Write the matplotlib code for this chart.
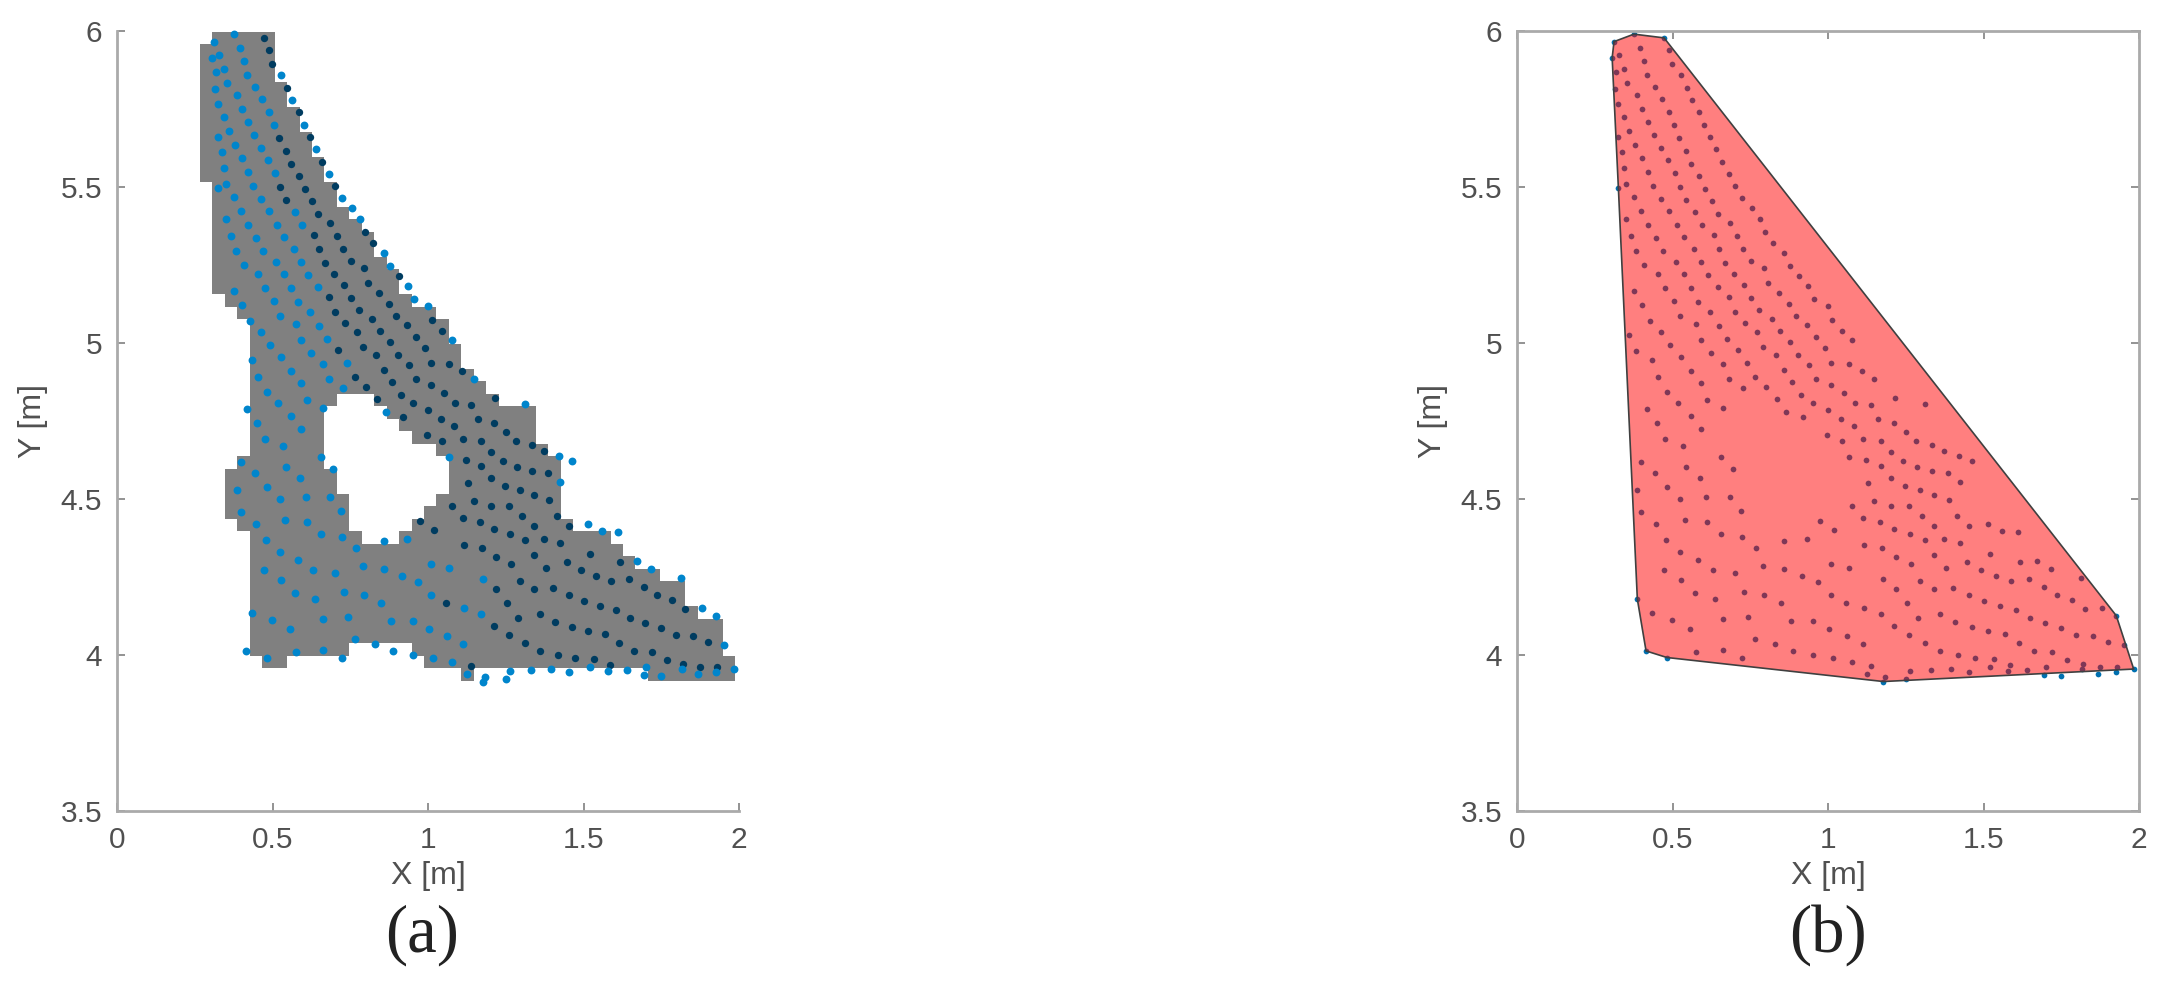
import numpy as np
import matplotlib
matplotlib.use('Agg')
import matplotlib.pyplot as plt
from matplotlib.colors import ListedColormap

plt.rcParams['font.family'] = ['Liberation Sans', 'DejaVu Sans']

# occupancy grid, cells of 0.04 m, rows counted from the top
cell = 0.04
grid_x0 = 0.266
grid_ytop = 5.996
n_cols = 43
row_runs = [
    [(1, 6)], [(0, 6)], [(0, 6)], [(0, 6)], [(0, 7)], [(0, 7)], [(0, 8)], [(0, 8)],
    [(0, 9)], [(0, 9)], [(0, 10)], [(0, 10)], [(1, 11)], [(1, 11)], [(1, 12)], [(1, 13)],
    [(1, 14)], [(1, 14)], [(1, 15)], [(1, 16)], [(1, 16)], [(2, 17)], [(3, 19)], [(4, 20)],
    [(4, 20)], [(4, 21)], [(4, 21)], [(4, 22)], [(4, 23)],
    [(4, 11), (14, 24)], [(4, 10), (15, 27)], [(4, 10), (16, 27)], [(4, 10), (17, 27)],
    [(4, 10), (19, 28)], [(3, 10), (20, 29)], [(2, 11), (20, 29)], [(2, 11), (20, 29)],
    [(2, 12), (19, 29)], [(2, 12), (18, 29)], [(3, 12), (17, 30)], [(4, 13), (16, 33)],
    [(4, 34)], [(4, 35)], [(4, 37)], [(4, 39)], [(4, 39)], [(4, 40)], [(4, 42)], [(4, 42)],
    [(4, 12), (17, 42)], [(5, 7), (18, 43)], [(21, 22), (36, 43)],
]

# points that show as bright blue in (a)
blue_pts = np.array([
    [.375, 5.989], [.311, 5.965], [.393, 5.946], [.328, 5.922], [.305, 5.913], [.408, 5.904],
    [.344, 5.877], [.316, 5.867], [.417, 5.858], [.526, 5.857], [.353, 5.831], [.314, 5.814],
    [.442, 5.819], [.384, 5.793], [.465, 5.780], [.561, 5.778], [.324, 5.765], [.402, 5.750],
    [.487, 5.739], [.343, 5.722], [.420, 5.707], [.504, 5.699], [.600, 5.699], [.360, 5.679],
    [.324, 5.659], [.438, 5.665], [.378, 5.634], [.461, 5.624], [.639, 5.620], [.337, 5.612],
    [.401, 5.591], [.484, 5.584], [.342, 5.561], [.420, 5.548], [.507, 5.543], [.680, 5.542],
    [.349, 5.509], [.325, 5.496], [.436, 5.502], [.374, 5.466], [.462, 5.462], [.721, 5.463],
    [.399, 5.423], [.488, 5.421], [.570, 5.418], [.755, 5.432], [.351, 5.395], [.420, 5.377],
    [.512, 5.378], [.595, 5.378], [.780, 5.396], [.364, 5.343], [.447, 5.337], [.536, 5.338],
    [.382, 5.295], [.470, 5.293], [.568, 5.301], [.856, 5.289], [.408, 5.250], [.509, 5.260],
    [.592, 5.260], [.453, 5.219], [.535, 5.219], [.614, 5.218], [.876, 5.247], [.374, 5.167],
    [.476, 5.175], [.559, 5.175], [.644, 5.178], [.505, 5.134], [.582, 5.131], [.936, 5.183],
    [.401, 5.120], [.953, 5.139], [.998, 5.119], [.523, 5.085], [.620, 5.098],
    [.427, 5.071], [.574, 5.059], [.647, 5.055], [.461, 5.035], [.592, 5.009], [.673, 5.012],
    [1.075, 5.009], [.491, 4.993], [.624, 4.968], [.526, 4.953], [.432, 4.944], [.661, 4.933],
    [.738, 4.936], [.557, 4.909], [.453, 4.891], [.682, 4.884], [1.146, 4.885], [.590, 4.870],
    [.727, 4.856], [.480, 4.842], [.609, 4.817], [.518, 4.806], [.660, 4.791], [.416, 4.788],
    [.864, 4.778], [.557, 4.766], [.449, 4.743], [.590, 4.725], [.475, 4.692], [.533, 4.670],
    [.654, 4.635], [.397, 4.618], [.541, 4.601], [.692, 4.595], [.442, 4.582], [.586, 4.566],
    [.480, 4.537], [.385, 4.527], [.607, 4.506], [.684, 4.507], [.523, 4.498], [.720, 4.462],
    [.399, 4.458], [.539, 4.432], [.610, 4.425], [.446, 4.419], [.655, 4.388], [.721, 4.378],
    [.478, 4.368], [.858, 4.366], [.767, 4.343], [.524, 4.328], [.580, 4.303], [.791, 4.283],
    [.859, 4.274], [.473, 4.272], [.630, 4.270], [.701, 4.261], [.525, 4.239], [.572, 4.199],
    [.635, 4.180], [.728, 4.200], [.793, 4.190], [.849, 4.166], [.434, 4.134], [.499, 4.112],
    [.662, 4.116], [.743, 4.121], [.879, 4.107], [.554, 4.082], [.763, 4.050], [.828, 4.034],
    [.414, 4.012], [.887, 4.012], [.481, 3.991], [.575, 4.008], [.661, 4.014], [.723, 3.991],
    [1.311, 4.803], [1.067, 4.633], [1.419, 4.636], [1.463, 4.622], [1.425, 4.555],
    [1.513, 4.419], [1.558, 4.398], [1.609, 4.394], [1.672, 4.300], [1.717, 4.275], [1.812, 4.246],
    [1.881, 4.150], [1.926, 4.125], [1.950, 4.030], [.930, 4.372], [1.008, 4.291], [1.068, 4.278],
    [.914, 4.253], [.968, 4.233], [1.008, 4.190], [1.116, 4.150], [1.169, 4.131], [1.175, 4.244],
    [.951, 4.108], [1.003, 4.082], [1.060, 4.061], [1.112, 4.034], [.951, 4.000], [1.015, 3.989],
    [1.077, 3.978], [1.123, 3.937], [1.262, 3.947], [1.329, 3.951], [1.394, 3.953], [1.453, 3.944],
    [1.521, 3.960], [1.577, 3.948], [1.639, 3.950], [1.701, 3.962], [1.693, 3.935], [1.749, 3.933],
    [1.815, 3.953], [1.866, 3.937], [1.924, 3.943], [1.982, 3.954], [1.183, 3.928], [1.177, 3.914],
    [1.250, 3.922],
])

# points that show as dark navy in (a)
dark_pts = np.array([
    [.472, 5.977], [.489, 5.937], [.497, 5.892], [.545, 5.817], [.583, 5.738], [.520, 5.656],
    [.619, 5.659], [.542, 5.615], [.559, 5.574], [.658, 5.580], [.585, 5.535], [.523, 5.498],
    [.604, 5.494], [.701, 5.503], [.544, 5.456], [.627, 5.454], [.646, 5.412], [.685, 5.385],
    [.631, 5.344], [.706, 5.343], [.797, 5.354], [.647, 5.301], [.725, 5.299], [.821, 5.318],
    [.668, 5.257], [.751, 5.263], [.698, 5.220], [.794, 5.239], [.905, 5.215], [.729, 5.186],
    [.807, 5.191], [.681, 5.146], [.751, 5.142], [.841, 5.159], [.700, 5.100], [.777, 5.104],
    [.873, 5.125], [.818, 5.076], [.897, 5.087], [1.013, 5.073],
    [.732, 5.063], [.770, 5.033], [.845, 5.038], [.933, 5.056], [.877, 5.003], [.961, 5.017],
    [1.043, 5.038], [.709, 4.977], [.789, 4.985], [.990, 4.982], [.832, 4.960], [.901, 4.961],
    [.937, 4.929], [1.008, 4.936], [1.068, 4.932], [.856, 4.913], [1.109, 4.909], [.763, 4.890],
    [.961, 4.885], [.884, 4.873], [1.008, 4.865], [.800, 4.859], [1.049, 4.840], [.912, 4.831],
    [.834, 4.819], [1.215, 4.824],
    [.952, 4.806], [1.086, 4.808], [1.136, 4.799], [1.000, 4.785], [1.042, 4.756], [1.160, 4.754],
    [.918, 4.761], [1.210, 4.742], [1.083, 4.733], [1.249, 4.715], [.995, 4.704], [1.044, 4.685],
    [1.112, 4.690], [1.168, 4.686], [1.283, 4.684], [1.332, 4.672], [1.373, 4.653], [1.202, 4.651],
    [1.122, 4.624], [1.240, 4.622], [1.169, 4.606], [1.285, 4.603], [1.334, 4.589], [1.386, 4.582],
    [1.129, 4.551], [1.202, 4.566], [1.246, 4.542], [1.294, 4.527], [1.341, 4.512], [1.388, 4.495],
    [1.075, 4.478], [1.148, 4.492], [1.200, 4.476], [1.260, 4.476], [1.301, 4.446], [1.414, 4.445],
    [1.112, 4.438], [.974, 4.428], [1.165, 4.424], [1.019, 4.400], [1.340, 4.414], [1.454, 4.414],
    [1.211, 4.402], [1.264, 4.387], [1.312, 4.369], [1.372, 4.372], [1.424, 4.357], [1.116, 4.351],
    [1.174, 4.341], [1.341, 4.318], [1.218, 4.312], [1.519, 4.324], [1.267, 4.292], [1.447, 4.296],
    [1.615, 4.296], [1.379, 4.277], [1.492, 4.273], [1.538, 4.251], [1.296, 4.236], [1.587, 4.235],
    [1.645, 4.242], [1.692, 4.217], [1.217, 4.209], [1.340, 4.209], [1.402, 4.213], [1.451, 4.191],
    [1.734, 4.191], [1.058, 4.165], [1.253, 4.165], [1.502, 4.173], [1.784, 4.174], [1.551, 4.157],
    [1.604, 4.143], [1.826, 4.147], [1.359, 4.132], [1.650, 4.119], [1.288, 4.117], [1.698, 4.101],
    [1.406, 4.104], [1.461, 4.090], [1.211, 4.091], [1.748, 4.084], [1.514, 4.076], [1.260, 4.062],
    [1.568, 4.065], [1.796, 4.063], [1.850, 4.060], [1.310, 4.038], [1.898, 4.040], [1.612, 4.036],
    [1.360, 4.013], [1.663, 4.013], [1.718, 4.008], [1.417, 3.998], [1.473, 3.988], [1.533, 3.985],
    [1.767, 3.983], [1.138, 3.965], [1.820, 3.969], [1.584, 3.967], [1.873, 3.960], [1.928, 3.961],
])

# only in (b)
extra_pts = np.array([[.358, 5.024], [.383, 4.975], [.386, 4.178]])

hull_pts = np.array([
    [.311, 5.965], [.375, 5.989], [.472, 5.977], [1.926, 4.125], [1.982, 3.954], [1.177, 3.914],
    [.481, 3.991], [.414, 4.012], [.386, 4.178], [.325, 5.496], [.305, 5.913],
])

x_ticks = [0, 0.5, 1, 1.5, 2]
x_ticklabels = ['0', '0.5', '1', '1.5', '2']
y_ticks = [3.5, 4, 4.5, 5, 5.5, 6]
y_ticklabels = ['3.5', '4', '4.5', '5', '5.5', '6']

W, H = 2168, 986
axis_col = '#aaaaaa'
text_col = '#505050'
blue = '#0085cc'
navy = '#003c60'

fig = plt.figure(figsize=(W / 100, H / 100), dpi=100)
ax_a = fig.add_axes([117.3 / W, 1 - 810.7 / H, 622 / W, 780 / H])
ax_b = fig.add_axes([1517.3 / W, 1 - 810.7 / H, 622 / W, 780 / H])

for ax in (ax_a, ax_b):
    ax.set_xlim(0, 2)
    ax.set_ylim(3.5, 6)
    ax.set_xticks(x_ticks)
    ax.set_xticklabels(x_ticklabels)
    ax.set_yticks(y_ticks)
    ax.set_yticklabels(y_ticklabels)
    ax.tick_params(direction='in', length=6, width=1.2, color='#808080', labelsize=21.5,
                   labelcolor=text_col, pad=11)
    ax.set_xlabel('X [m]', fontsize=23, color=text_col, labelpad=5)
    ax.set_ylabel('Y [m]', fontsize=23, color=text_col, labelpad=9)
    for s in ax.spines.values():
        s.set_color(axis_col)
        s.set_linewidth(2.0)

# (a) grid map with the reachable points on top
ax_a.spines['top'].set_visible(False)
ax_a.spines['right'].set_visible(False)
occ = np.full((len(row_runs), n_cols), np.nan)
for j, runs in enumerate(row_runs):
    for k0, k1 in runs:
        occ[j, k0:k1] = 1
x_edges = grid_x0 + cell * np.arange(n_cols + 1)
y_edges = grid_ytop - cell * np.arange(len(row_runs) + 1)
ax_a.pcolormesh(x_edges, y_edges, occ, cmap=ListedColormap(['#808080']), zorder=1)
ax_a.scatter(dark_pts[:, 0], dark_pts[:, 1], s=28, color=navy, linewidths=0, zorder=2, clip_on=False)
ax_a.scatter(blue_pts[:, 0], blue_pts[:, 1], s=32, color=blue, linewidths=0, zorder=3, clip_on=False)

# (b) convex hull over the same points
ax_b.tick_params(top=True, right=True)
all_pts = np.vstack([blue_pts, dark_pts, extra_pts])
ax_b.scatter(all_pts[:, 0], all_pts[:, 1], s=17, color='#0070b0', linewidths=0, zorder=1, clip_on=False)
ax_b.fill(hull_pts[:, 0], hull_pts[:, 1], color='red', alpha=0.5, linewidth=0, zorder=2)
ax_b.plot(np.r_[hull_pts[:, 0], hull_pts[0, 0]], np.r_[hull_pts[:, 1], hull_pts[0, 1]],
          color='#404040', lw=1.2, zorder=3)

fig.text(422 / W, 1 - 935 / H, '(a)', family=['Liberation Serif'], fontsize=48, color='#222222',
         ha='center', va='center')
fig.text(1828 / W, 1 - 935 / H, '(b)', family=['Liberation Serif'], fontsize=48, color='#222222',
         ha='center', va='center')

fig.savefig('out.png', dpi=100)
